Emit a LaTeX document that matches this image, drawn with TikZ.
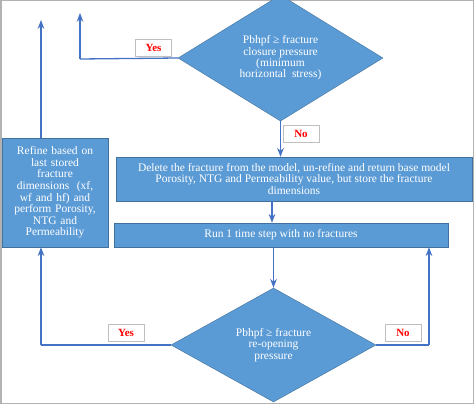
\documentclass[tikz,border=0pt]{standalone}
\usepackage{fontspec}
\setmainfont{Liberation Serif}
\usetikzlibrary{arrows.meta,shapes.geometric}

\definecolor{boxblue}{HTML}{5B9BD5}
\definecolor{boxedge}{HTML}{41719C}
\definecolor{linkblue}{HTML}{4472C4}

\begin{document}
\begin{tikzpicture}[x=1pt,y=-1pt,
  stepbox/.style={draw=boxedge, fill=boxblue, text=white, align=center,
    inner sep=2pt, font=\fontsize{11.5}{11.6}\selectfont},
  test/.style={diamond, draw=boxedge, fill=boxblue, text=white, align=center,
    inner sep=0pt, minimum width=205pt, font=\fontsize{11.5}{11.3}\selectfont},
  arrow/.style={-Stealth, draw=linkblue, line width=1.3pt},
  link/.style={draw=linkblue, line width=1.3pt},
  label/.style={draw=gray!50, fill=white, text=red, inner sep=0pt,
    minimum width=36pt, minimum height=17pt, font=\fontsize{11}{12}\selectfont\bfseries}
]
\useasboundingbox (0,0) rectangle (474,404);
\draw[gray!60, line width=1.5pt] (0.75,0.75) rectangle (473.25,403.25);

\node[test, minimum height=112pt] (closure) at (280.5,58) {Pbhpf ≥ fracture\\closure pressure\\(minimum\\horizontal\ \ stress)};
\node[stepbox, minimum width=356pt, minimum height=44pt] (delete) at (294,179)
  {Delete the fracture from the model,\ un-refine and return base model\\Porosity, NTG and Permeability value,\ but store the fracture\\dimensions};
\node[stepbox, minimum width=334pt, minimum height=24pt] (run) at (281,235) {Run 1 time step with no fractures};
\node[stepbox, text width=102pt, minimum width=106pt, minimum height=109pt] (refine) at (55,192.5)
  {Refine based on\\last stored\\fracture\\dimensions\ \ (xf,\\wf and hf) and\\perform Porosity,\\NTG and\\Permeability};
\node[test, minimum height=114pt] (reopen) at (273.5,345) {Pbhpf ≥ fracture\\re-opening\\pressure};

\coordinate (yesup) at (80,13);
\coordinate (refineup) at (41,20);
\coordinate (yescorner) at (80,59);
\coordinate (leftcorner) at (41,345);
\coordinate (rightcorner) at (429,345);

\draw[link] (closure.west) -- (yescorner);
\draw[arrow] (yescorner) -- (yesup);
\draw[arrow] (closure.south) -- (delete.north -| closure.south);
\draw[arrow] (delete.south -| 272,0) -- (run.north -| 272,0);
\draw[arrow] (run.south -| reopen.north) -- (reopen.north);
\draw[arrow] (refine.north -| refineup) -- (refineup);
\draw[link] (reopen.west) -- (leftcorner);
\draw[arrow] (leftcorner) -- (refine.south -| leftcorner);
\draw[link] (reopen.east) -- (rightcorner);
\draw[arrow] (rightcorner) -- (run.south -| rightcorner);

\node[label] (yes1) at (153.5,47.5) {Yes};
\node[label] (no1) at (301,134) {No};
\node[label] (yes2) at (126,332.5) {Yes};
\node[label] (no2) at (403,332.5) {No};
\end{tikzpicture}
\end{document}
